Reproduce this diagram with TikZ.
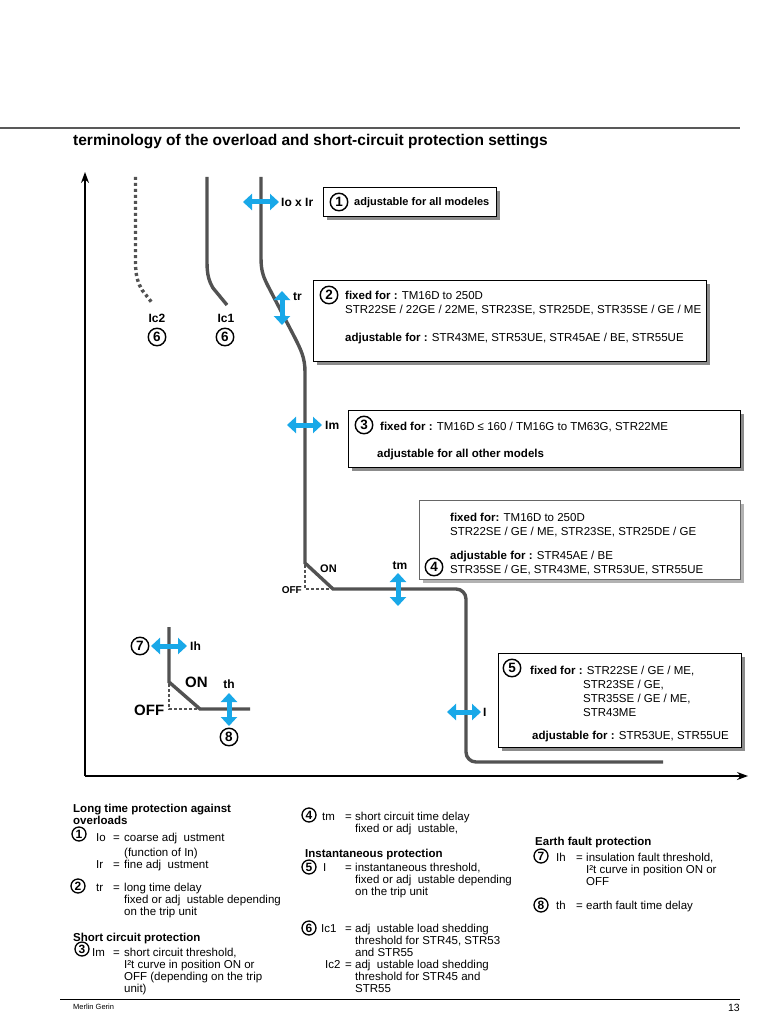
\documentclass[tikz,border=0pt]{standalone}
\usepackage{fontspec}
\setmainfont{Liberation Sans}
\usetikzlibrary{arrows.meta}
\definecolor{cyanarr}{RGB}{25,168,232}
\definecolor{curvegray}{RGB}{82,82,82}
\tikzset{
 crv/.style={draw=curvegray,line width=3.4pt},
 dsh/.style={draw=curvegray,line width=2.6pt,dash pattern=on 3pt off 2pt},
 dbl/.style={draw=cyanarr,line width=5pt,{Triangle[width=16pt,length=9pt]}-{Triangle[width=16pt,length=9pt]}},
 frame/.style={draw=black,line width=0.9pt,fill=white},
 shadowbox/.style={fill=black!45},
 tx/.style={anchor=base west,inner sep=0pt,font=\fontsize{11.5}{14}\selectfont},
 hd/.style={anchor=base west,inner sep=0pt,font=\bfseries\fontsize{11.5}{14}\selectfont},
 lbl/.style={anchor=west,inner sep=0pt,font=\bfseries\fontsize{12}{14}\selectfont},
 num/.style={circle,draw=black,line width=1.4pt,inner sep=0pt,minimum size=17.5pt,font=\bfseries\fontsize{13.5}{14}\selectfont},
 lnum/.style={circle,draw=black,line width=1.3pt,inner sep=0pt,minimum size=14pt,font=\bfseries\fontsize{12}{12}\selectfont},
}
\begin{document}
\begin{tikzpicture}[x=1pt,y=-1pt]
\useasboundingbox (0,0) rectangle (768,1024);
% rules
\draw[line width=2pt,black!65] (0,128) -- (740,128);
\draw[line width=0.8pt] (60,999) -- (740,999);
\node[anchor=base west,inner sep=0pt,font=\bfseries\fontsize{15.5}{18}\selectfont] (title) at (73,146) {terminology of the overload and short-circuit protection settings};
% axes
\draw[line width=1.2pt,-{Stealth[length=11pt,width=8pt]}] (85,776) -- (85,172);
\draw[line width=1.2pt,-{Stealth[length=11pt,width=8pt]}] (85,776) -- (748,776);
% curves
\draw[crv,dash pattern=on 3pt off 3pt] (135.5,177) -- (135.5,262) .. controls (135.5,276) and (138,283) .. (142,290) -- (153,304);
\draw[crv] (207,177) -- (207,262) .. controls (207,275) and (209,281) .. (213,288) -- (227,305);
\draw[crv] (261,177) -- (261,258) .. controls (261,272) and (264,278) .. (268,286) -- (295,338) .. controls (301,350) and (305,358) .. (305,372) -- (305,563) -- (333,589) [rounded corners=10pt] -- (466,589) -- (466,762) -- (663,762);
\draw[dsh] (305,565) -- (305,589) -- (331,589);
\draw[crv] (169,627) -- (169,682) -- (200,709) -- (250,709);
\draw[dsh] (169,684) -- (169,709) -- (198,709);
% arrows
\draw[dbl] (243,202) -- (279,202);
\draw[dbl] (282,291) -- (282,325);
\draw[dbl] (287,425) -- (322,425);
\draw[dbl] (398,573) -- (398,606);
\draw[dbl] (447,712) -- (481,712);
\draw[dbl] (151,646) -- (187,646);
\draw[dbl] (229,693) -- (229,726);
% curve labels
\node[lbl] (lioir) at (281,202) {Io x Ir};
\node[lbl] (ltr) at (293,297) {tr};
\node[lbl] (lim) at (325,425) {Im};
\node[lbl,anchor=center] (ltm) at (400,566) {tm};
\node[lbl,font=\bfseries\fontsize{11}{12}\selectfont] (lon) at (320,569) {ON};
\node[lbl,anchor=east,font=\bfseries\fontsize{10}{12}\selectfont] (loff) at (302,590) {OFF};
\node[lbl] (li) at (483,712) {I};
\node[lbl] (lih) at (190,646) {Ih};
\node[lbl,font=\bfseries\fontsize{15}{16}\selectfont] (lon2) at (185,682) {ON};
\node[lbl,font=\bfseries\fontsize{15}{16}\selectfont] (loff2) at (134,710) {OFF};
\node[lbl,anchor=center] (lth) at (229,684) {th};
\node[lbl,anchor=center] (lic2) at (157,318) {Ic2};
\node[lbl,anchor=center] (lic1) at (226,318) {Ic1};
\node[num] (n6a) at (157,337) {6};
\node[num] (n6b) at (225,337) {6};
\node[num] (n7) at (140,646) {7};
\node[num] (n8) at (229,737) {8};
% box 1
\fill[shadowbox] (327,191) rectangle (500,220);
\draw[frame] (323,187) rectangle (496,216);
\node[num] (n1) at (339,202) {1};
\node[hd,font=\bfseries\fontsize{11}{14}\selectfont] (b1t) at (354,206) {adjustable for all modeles};
% box 2
\fill[shadowbox] (317,284) rectangle (710,365);
\draw[frame] (313,280) rectangle (706,361);
\node[num] (n2) at (329,295) {2};
\node[tx] (b2a) at (345,299) {\textbf{fixed for :} TM16D to 250D};
\node[tx] (b2b) at (345,313) {STR22SE / 22GE / 22ME, STR23SE, STR25DE, STR35SE / GE / ME};
\node[tx] (b2c) at (345,341) {\textbf{adjustable for :} STR43ME, STR53UE, STR45AE / BE, STR55UE};
% box 3
\fill[shadowbox] (352,414) rectangle (744,471);
\draw[frame] (348,410) rectangle (740,467);
\node[num] (n3) at (364,425) {3};
\node[tx] (b3a) at (380,430) {\textbf{fixed for :} TM16D ≤ 160 / TM16G to TM63G, STR22ME};
\node[hd] (b3b) at (377,457) {adjustable for all other models};
% box 4
\fill[black!30] (423,504) rectangle (744,583);
\draw[frame,draw=black!60] (419,500) rectangle (740,579);
\node[tx] (b4a) at (450,521) {\textbf{fixed for:} TM16D to 250D};
\node[tx] (b4b) at (450,535) {STR22SE / GE / ME, STR23SE, STR25DE / GE};
\node[tx] (b4c) at (450,559) {\textbf{adjustable for :} STR45AE / BE};
\node[tx] (b4d) at (450,573) {STR35SE / GE, STR43ME, STR53UE, STR55UE};
\node[num] (n4) at (434,567) {4};
% box 5
\fill[shadowbox] (502,657) rectangle (745,751);
\draw[frame] (498,653) rectangle (741,747);
\node[num] (n5) at (512,668) {5};
\node[tx] (b5a) at (530,674) {\textbf{fixed for :} STR22SE / GE / ME,};
\node[tx] (b5b) at (583,688) {STR23SE / GE,};
\node[tx] (b5c) at (583,702) {STR35SE / GE / ME,};
\node[tx] (b5d) at (583,716) {STR43ME};
\node[tx] (b5e) at (532,739) {\textbf{adjustable for :} STR53UE, STR55UE};
% legend column 1
\node[hd] (h1a) at (73,812) {Long time protection against};
\node[hd] (h1b) at (73,824) {overloads};
\node[lnum] (c1) at (79,834) {1};
\node[tx] (l1a) at (96,841) {Io};
\node[tx] (l1b) at (113,841) {=};
\node[tx] (l1c) at (124,841) {coarse adj~ ustment};
\node[tx] (l1d) at (124,856) {(function of In)};
\node[tx] (l1e) at (96,868) {Ir};
\node[tx] (l1f) at (113,868) {=};
\node[tx] (l1g) at (124,868) {fine adj~ ustment};
\node[lnum] (c2) at (78,886) {2};
\node[tx] (l2a) at (96,891) {tr};
\node[tx] (l2b) at (113,891) {=};
\node[tx] (l2c) at (124,891) {long time delay};
\node[tx] (l2d) at (124,903) {fixed or adj~ ustable depending};
\node[tx] (l2e) at (124,915) {on the trip unit};
\node[hd] (h2) at (73,941) {Short circuit protection};
\node[lnum] (c3) at (82,949) {3};
\node[tx] (l3a) at (92,956) {Im};
\node[tx] (l3b) at (113,956) {=};
\node[tx] (l3c) at (124,956) {short circuit threshold,};
\node[tx] (l3d) at (124,968) {I²t curve in position ON or};
\node[tx] (l3e) at (124,980) {OFF (depending on the trip};
\node[tx] (l3f) at (124,992) {unit)};
% legend column 2
\node[lnum] (c4) at (309,815) {4};
\node[tx] (l4a) at (322,820) {tm};
\node[tx] (l4b) at (345,820) {=};
\node[tx] (l4c) at (355,820) {short circuit time delay};
\node[tx] (l4d) at (355,832) {fixed or adj~ ustable,};
\node[hd] (h3) at (305,857) {Instantaneous protection};
\node[lnum] (c5) at (309,867) {5};
\node[tx] (l5a) at (323,871) {I};
\node[tx] (l5b) at (345,871) {=};
\node[tx] (l5c) at (355,871) {instantaneous threshold,};
\node[tx] (l5d) at (355,883) {fixed or adj~ ustable depending};
\node[tx] (l5e) at (355,895) {on the trip unit};
\node[lnum] (c6) at (309,928) {6};
\node[tx] (l6a) at (321,932) {Ic1};
\node[tx] (l6b) at (345,932) {=};
\node[tx] (l6c) at (355,932) {adj~ ustable load shedding};
\node[tx] (l6d) at (355,944) {threshold for STR45, STR53};
\node[tx] (l6e) at (355,956) {and STR55};
\node[tx] (l6f) at (325,968) {Ic2};
\node[tx] (l6g) at (345,968) {=};
\node[tx] (l6h) at (355,968) {adj~ ustable load shedding};
\node[tx] (l6i) at (355,980) {threshold for STR45 and};
\node[tx] (l6j) at (355,992) {STR55};
% legend column 3
\node[hd] (h4) at (535,845) {Earth fault protection};
\node[lnum] (c7) at (541,856) {7};
\node[tx] (l7a) at (556,861) {Ih};
\node[tx] (l7b) at (576,861) {=};
\node[tx] (l7c) at (586,861) {insulation fault threshold,};
\node[tx] (l7d) at (586,873) {I²t curve in position ON or};
\node[tx] (l7e) at (586,885) {OFF};
\node[lnum] (c8) at (541,905) {8};
\node[tx] (l8a) at (556,909) {th};
\node[tx] (l8b) at (576,909) {=};
\node[tx] (l8c) at (586,909) {earth fault time delay};
% footer
\node[anchor=base west,inner sep=0pt,font=\fontsize{7.5}{9}\selectfont] (foot1) at (73,1009) {Merlin Gerin};
\node[anchor=base east,inner sep=0pt,font=\fontsize{10.5}{12}\selectfont] (foot2) at (740,1011) {13};
\end{tikzpicture}
\end{document}
